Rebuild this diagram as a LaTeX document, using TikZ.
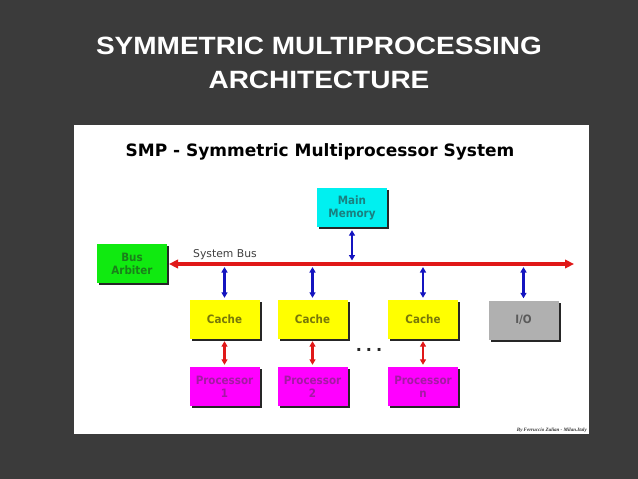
\documentclass[tikz,border=0pt]{standalone}
\usepackage{fontspec}
\setmainfont{DejaVu Sans}
\newfontfamily\boxfont{DejaVu Sans Condensed}
\newfontfamily\titlefont[FakeStretch=1.12]{Liberation Sans}
\newfontfamily\creditfont{Liberation Serif}
\usetikzlibrary{arrows.meta,shadows}
\definecolor{bg}{HTML}{3B3B3B}
\definecolor{cmem}{HTML}{00F0F0}
\definecolor{carb}{HTML}{10EA10}
\definecolor{ccache}{HTML}{FFFF00}
\definecolor{cproc}{HTML}{FF00FF}
\definecolor{cio}{HTML}{B0B0B0}
\definecolor{tmem}{HTML}{1A8080}
\definecolor{tarb}{HTML}{1A801A}
\definecolor{tcache}{HTML}{77770A}
\definecolor{tproc}{HTML}{A41AA4}
\definecolor{tio}{HTML}{5A5A5A}
\definecolor{busred}{HTML}{E01818}
\definecolor{arrblue}{HTML}{1414C0}
\tikzset{
  box/.style={minimum width=70pt, minimum height=39pt, inner sep=1pt, align=center,
    font=\boxfont\bfseries\fontsize{11.5}{13}\selectfont,
    drop shadow={shadow xshift=2.2pt, shadow yshift=-2.2pt, fill=black!85, opacity=1}},
  bluearr/.style={draw=arrblue, line width=2.3pt, {Triangle[length=5.5pt,width=6pt]}-{Triangle[length=5.5pt,width=6pt]}},
  redarr/.style={draw=busred, line width=2.3pt, {Triangle[length=5.5pt,width=6pt]}-{Triangle[length=5.5pt,width=6pt]}},
  busarr/.style={draw=busred, line width=3.4pt, {Triangle[length=9pt,width=8.5pt]}-{Triangle[length=9pt,width=8.5pt]}},
}
\begin{document}
\begin{tikzpicture}[x=1pt,y=-1pt]
\useasboundingbox (0,0) rectangle (638,479);
\fill[bg] (0,0) rectangle (638,479);
\node (t1) at (319,45.5) {\titlefont\bfseries\color{white}\fontsize{25}{30}\selectfont SYMMETRIC MULTIPROCESSING};
\node (t2) at (319,79.5) {\titlefont\bfseries\color{white}\fontsize{25}{30}\selectfont ARCHITECTURE};
\fill[white] (74,125) rectangle (589,434);
\node (smp) at (320,152) {\bfseries\fontsize{17}{20}\selectfont SMP - Symmetric Multiprocessor System};
\node[box, fill=cmem, text=tmem] (mem) at (352,207.5) {Main\\Memory};
\node[box, fill=carb, text=tarb] (arb) at (132,263.5) {Bus\\Arbiter};
\node[box, fill=ccache, text=tcache] (c1) at (224.5,319.5) {Cache};
\node[box, fill=ccache, text=tcache] (c2) at (312.5,319.5) {Cache};
\node[box, fill=ccache, text=tcache] (c3) at (423,319.5) {Cache};
\node[box, fill=cio, text=tio] (io) at (523.5,320) {I/O};
\node[box, fill=cproc, text=tproc] (p1) at (224.5,386.5) {Processor\\1};
\node[box, fill=cproc, text=tproc] (p2) at (312.5,386.5) {Processor\\2};
\node[box, fill=cproc, text=tproc] (pn) at (423,386.5) {Processor\\n};
\coordinate (busL) at (169,264);
\coordinate (busR) at (574,264);
\draw[busarr] (busL) -- (busR);
\node[anchor=south west, inner sep=0pt, text=black!75, font=\fontsize{10.8}{12}\selectfont] (buslbl) at (193,260) {System Bus};
\draw[bluearr, shorten <=3pt, shorten >=3.5pt] (mem.south) -- (mem.south |- busL);
\draw[bluearr, shorten <=3pt, shorten >=2pt] (c1.north |- busL) -- (c1.north);
\draw[bluearr, shorten <=3pt, shorten >=2pt] (c2.north |- busL) -- (c2.north);
\draw[bluearr, shorten <=3pt, shorten >=2pt] (c3.north |- busL) -- (c3.north);
\draw[bluearr, shorten <=3pt, shorten >=2pt] (io.north |- busL) -- (io.north);
\draw[redarr, shorten <=2pt, shorten >=2pt] (c1.south) -- (p1.north);
\draw[redarr, shorten <=2pt, shorten >=2pt] (c2.south) -- (p2.north);
\draw[redarr, shorten <=2pt, shorten >=2pt] (c3.south) -- (pn.north);
\node[font=\bfseries\fontsize{16}{16}\selectfont, text=black!85] (dots) at (369,350) {.\hspace{4pt}.\hspace{4pt}.};
\node[anchor=east, inner sep=0pt, text=black!80, font=\creditfont\itshape\bfseries\fontsize{5}{6}\selectfont] (credit) at (587,430) {By Ferruccio Zulian - Milan.Italy};
\end{tikzpicture}
\end{document}
